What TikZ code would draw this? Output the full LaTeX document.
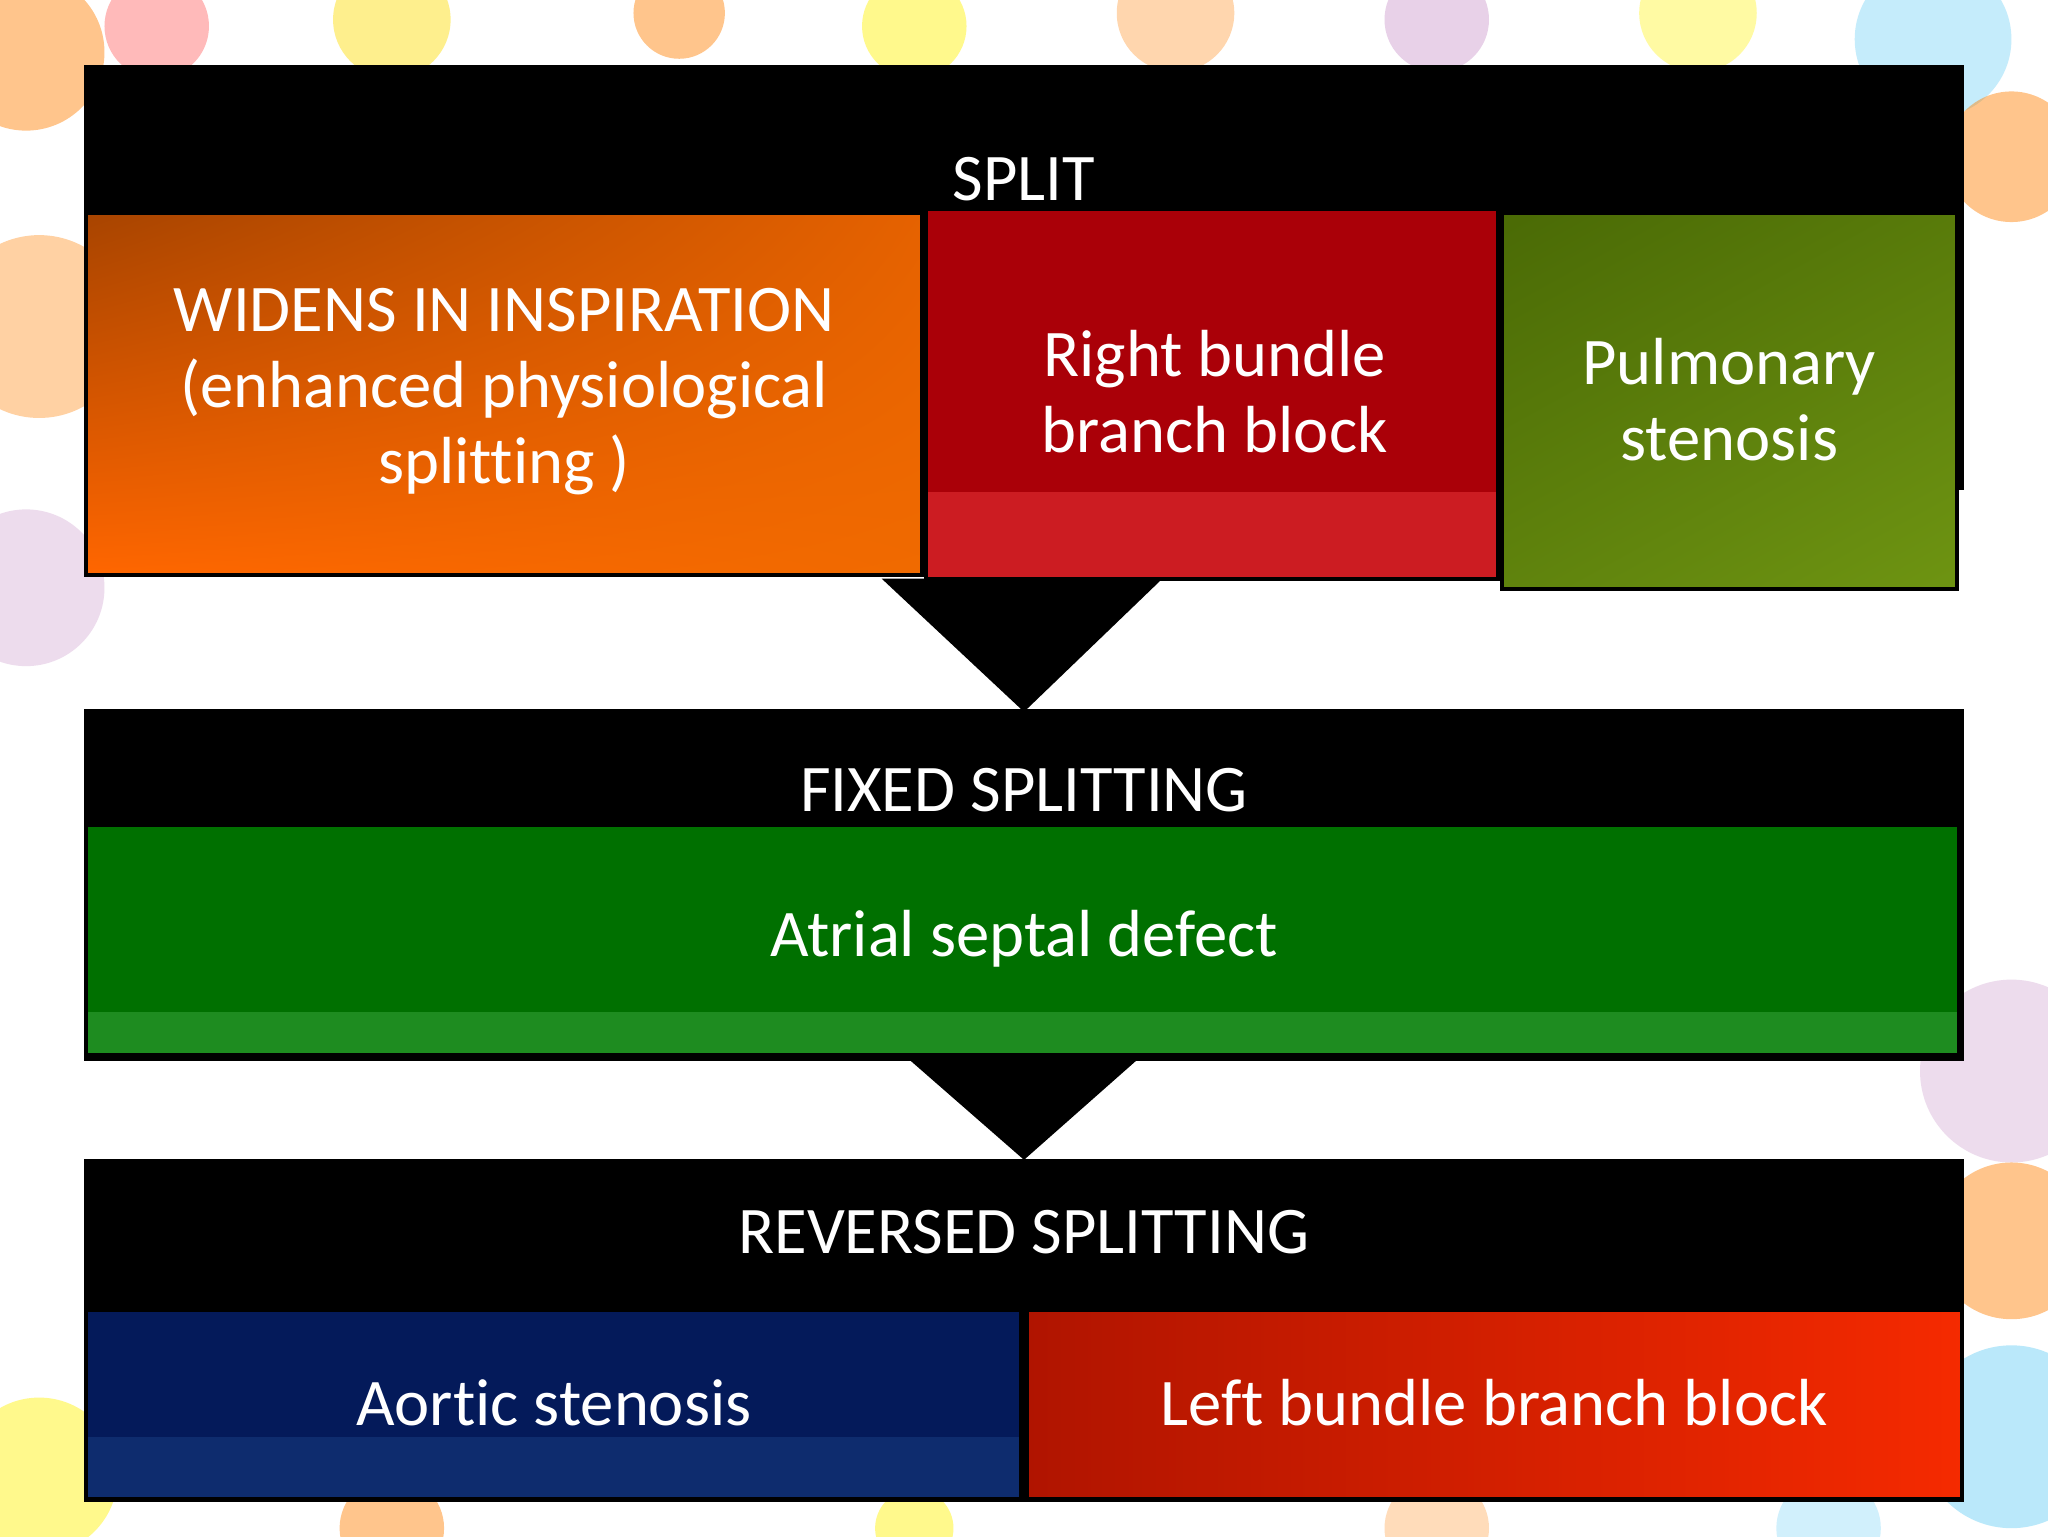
\documentclass[tikz,border=0pt]{standalone}
\usepackage{fontspec}
\usetikzlibrary{shadings}
\setmainfont[Ligatures=NoCommon]{Carlito}
\definecolor{navy}{HTML}{041A5A}
\definecolor{navyb}{HTML}{0E2C6E}
\definecolor{olivea}{HTML}{4A6A05}
\definecolor{oliveb}{HTML}{6E9412}
\definecolor{oranga}{HTML}{A84400}
\definecolor{orangb}{HTML}{F06A00}
\definecolor{redm}{HTML}{AA0008}
\definecolor{redb}{HTML}{CC1C22}
\definecolor{greenm}{HTML}{007000}
\definecolor{greenb}{HTML}{1E8C20}
\definecolor{lbba}{HTML}{B01400}
\definecolor{lbbb}{HTML}{F52A00}
\begin{document}
\begin{tikzpicture}[x=1pt,y=-1pt,
  txt/.style={text=white,font=\fontsize{51}{58}\selectfont,align=center},
  blk/.style={fill=black},
  bub/.style={opacity=0.45}]
\useasboundingbox (0,0) rectangle (1568,1176);
\fill[white] (0,0) rectangle (1568,1176);
% decorative bubbles
\foreach \x/\y/\r/\c in {20/40/60/orange,120/20/40/red!60,300/15/45/yellow!80!orange,520/10/35/orange,700/20/40/yellow,900/10/45/orange!70,1100/15/40/violet!40,1300/10/45/yellow!80,1480/30/60/cyan!50,1540/120/50/orange,30/250/70/orange!80,20/450/60/violet!30,1540/820/70/violet!30,1540/950/60/orange,1540/1100/70/cyan!60,30/1130/60/yellow,300/1170/40/orange,700/1170/30/yellow,1100/1170/40/orange!60,1400/1170/40/cyan!40}
  \fill[\c,bub] (\x,\y) circle (\r);
% top block
\fill[blk] (64,50) rectangle (1504,375);
\node[txt] (split) at (784,137) {SPLIT};
\shade[upper left=oranga,lower right=orangb,upper right=orange!85!red!90!black,lower left=orange!80!red] (66,163) rectangle (706,440);
\draw[black,line width=3] (66,163) rectangle (706,440);
\node[txt] (wid) at (386,300) {WIDENS IN INSPIRATION\\(enhanced physiological\\splitting )};
\fill[redm] (709,160) rectangle (1147,443);
\fill[redb] (709,377) rectangle (1147,443);
\draw[black,line width=3] (709,160) rectangle (1147,443);
\node[txt] (rbbb) at (930,300) {Right bundle\\branch block};
\shade[upper left=olivea,lower right=oliveb,upper right=olivea!60!oliveb,lower left=olivea!40!oliveb] (1150,163) rectangle (1498,451);
\draw[black,line width=3] (1150,163) rectangle (1498,451);
\node[txt] (ps) at (1324,306) {Pulmonary\\stenosis};
% arrow 1
\coordinate (a1l) at (675,443); \coordinate (a1r) at (890,443); \coordinate (a1b) at (784,545);
\fill[black] (a1l) -- (a1r) -- (a1b) -- cycle;
% middle block
\fill[blk] (64,543) rectangle (1504,812);
\node[txt] (fixed) at (784,605) {FIXED SPLITTING};
\fill[greenm] (66,632) rectangle (1500,808);
\fill[greenb] (66,775) rectangle (1500,808);
\draw[black,line width=3] (66,632) rectangle (1500,808);
\node[txt] (asd) at (784,719) {Atrial septal defect};
% arrow 2
\coordinate (a2l) at (697,812); \coordinate (a2r) at (870,812); \coordinate (a2b) at (784,888);
\fill[black] (a2l) -- (a2r) -- (a2b) -- cycle;
% bottom block
\fill[blk] (64,887) rectangle (1504,1150);
\node[txt] (rev) at (784,943) {REVERSED SPLITTING};
\fill[navy] (66,1003) rectangle (782,1148);
\fill[navyb] (66,1100) rectangle (782,1148);
\draw[black,line width=3] (66,1003) rectangle (782,1148);
\node[txt] (as) at (424,1074) {Aortic stenosis};
\shade[left color=lbba, right color=lbbb] (786,1003) rectangle (1502,1148);
\draw[black,line width=3] (786,1003) rectangle (1502,1148);
\node[txt] (lbbbn) at (1144,1074) {Left bundle branch block};
\end{tikzpicture}
\end{document}
